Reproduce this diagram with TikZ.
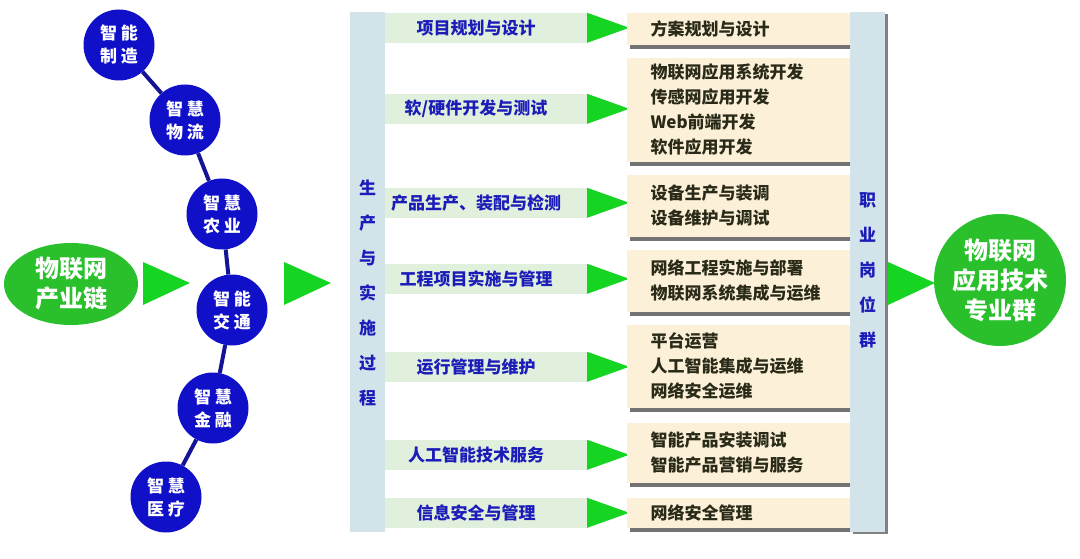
\documentclass[tikz,border=0pt]{standalone}
\usepackage{fontspec}
\setmainfont{Noto Sans CJK SC}
\usetikzlibrary{positioning, shapes.geometric}
\definecolor{myblue}{RGB}{16,16,200}
\definecolor{linkblue}{RGB}{20,20,150}
\definecolor{textblue}{RGB}{28,28,185}
\definecolor{mygreen}{RGB}{42,192,44}
\definecolor{tipgreen}{RGB}{22,212,34}
\definecolor{barblue}{RGB}{210,228,234}
\definecolor{barmint}{RGB}{224,240,220}
\definecolor{mybeige}{RGB}{252,241,216}
\definecolor{boxtext}{RGB}{42,42,24}

\tikzset{
  field/.style={circle, fill=myblue, minimum size=71, inner sep=0, text=white,
    font=\bfseries\fontsize{17}{23}\selectfont, align=center},
  procbar/.style={rectangle, fill=barmint, minimum width=182, minimum height=30,
    inner sep=0, text=textblue, font=\bfseries\fontsize{17}{20}\selectfont},
  postbox/.style={rectangle, fill=mybeige, minimum width=218, text width=177,
    inner xsep=24, inner ysep=0, align=left, text=boxtext,
    font=\bfseries\fontsize{17}{25}\selectfont,
    preaction={fill=black!55, transform canvas={xshift=3pt, yshift=-4pt}}},
  sidebar/.style={rectangle, fill=barblue, minimum width=35, minimum height=520,
    inner sep=0},
  sidetext/.style={text=textblue, align=center, inner sep=0,
    font=\bfseries\fontsize{17}{35}\selectfont},
  goal/.style={fill=mygreen, text=white, align=center, inner sep=0,
    font=\bfseries\fontsize{24}{30}\selectfont},
  link/.style={linkblue, line width=4},
}

\begin{document}
\begin{tikzpicture}[x=1pt, y=-1pt]
\useasboundingbox (0,0) rectangle (1080,559);

% industry chain
\node[goal, ellipse, minimum width=134, minimum height=82] (chain) at (71,284) {物联网\\产业链};
\fill[tipgreen] (143,262) -- (190,283) -- (143,305) -- cycle;

\node[field] (f1) at (119,45)  {智\hspace{4pt}能\\制\hspace{4pt}造};
\node[field] (f2) at (185,120) {智\hspace{4pt}慧\\物\hspace{4pt}流};
\node[field] (f3) at (222,214) {智\hspace{4pt}慧\\农\hspace{4pt}业};
\node[field] (f4) at (232,310) {智\hspace{4pt}能\\交\hspace{4pt}通};
\node[field] (f5) at (213,408) {智\hspace{4pt}慧\\金\hspace{4pt}融};
\node[field] (f6) at (166,497) {智\hspace{4pt}慧\\医\hspace{4pt}疗};

\draw[link] (f1) -- (f2);
\draw[link] (f2) -- (f3);
\draw[link] (f3) -- (f4);
\draw[link] (f4) -- (f5);
\draw[link] (f5) -- (f6);

\fill[tipgreen] (284,262) -- (331,283) -- (284,305) -- cycle;

% process
\node[sidebar] (proc) at (367.5,272) {};
\node[sidetext] (proctext) at (367.5,293) {生\\产\\与\\实\\施\\过\\程};

\node[procbar] (p1) at (476,28)  {项目规划与设计};
\node[procbar] (p2) at (476,109) {软/硬件开发与测试};
\node[procbar] (p3) at (476,203) {产品生产、装配与检测};
\node[procbar] (p4) at (476,279) {工程项目实施与管理};
\node[procbar] (p5) at (476,367) {运行管理与维护};
\node[procbar] (p6) at (476,455) {人工智能技术服务};
\node[procbar] (p7) at (476,513) {信息安全与管理};

\foreach \n in {p1,p2,p3,p4,p5,p6,p7}{
  \fill[barmint] (\n.north east) rectangle ++(20,30);
  \fill[tipgreen] (\n.north east) ++(20,0) -- ++(42,15) -- ++(-42,15) -- cycle;
}

% posts
\node[postbox, minimum height=32]  (b1) at (739,29)  {方案规划与设计};
\node[postbox, minimum height=104] (b2) at (739,110) {物联网应用系统开发\\传感网应用开发\\Web前端开发\\软件应用开发};
\node[postbox, minimum height=62]  (b3) at (739,206) {设备生产与装调\\设备维护与调试};
\node[postbox, minimum height=62]  (b4) at (739,281) {网络工程实施与部署\\物联网系统集成与运维};
\node[postbox, minimum height=83]  (b5) at (739,366) {平台运营\\人工智能集成与运维\\网络安全运维};
\node[postbox, minimum height=60]  (b6) at (739,453) {智能产品安装调试\\智能产品营销与服务};
\node[postbox, minimum height=30]  (b7) at (739,513) {网络安全管理};

\node[sidebar, preaction={fill=black!50, transform canvas={xshift=3pt, yshift=-2pt}}]
  (jobs) at (867.5,272) {};
\node[sidetext] (jobstext) at (867.5,270) {职\\业\\岗\\位\\群};

\fill[tipgreen] (888,262) -- (935,283) -- (888,305) -- cycle;
\node[goal, circle, minimum size=132] (major) at (1000,280) {物联网\\应用技术\\专业群};

\end{tikzpicture}
\end{document}
